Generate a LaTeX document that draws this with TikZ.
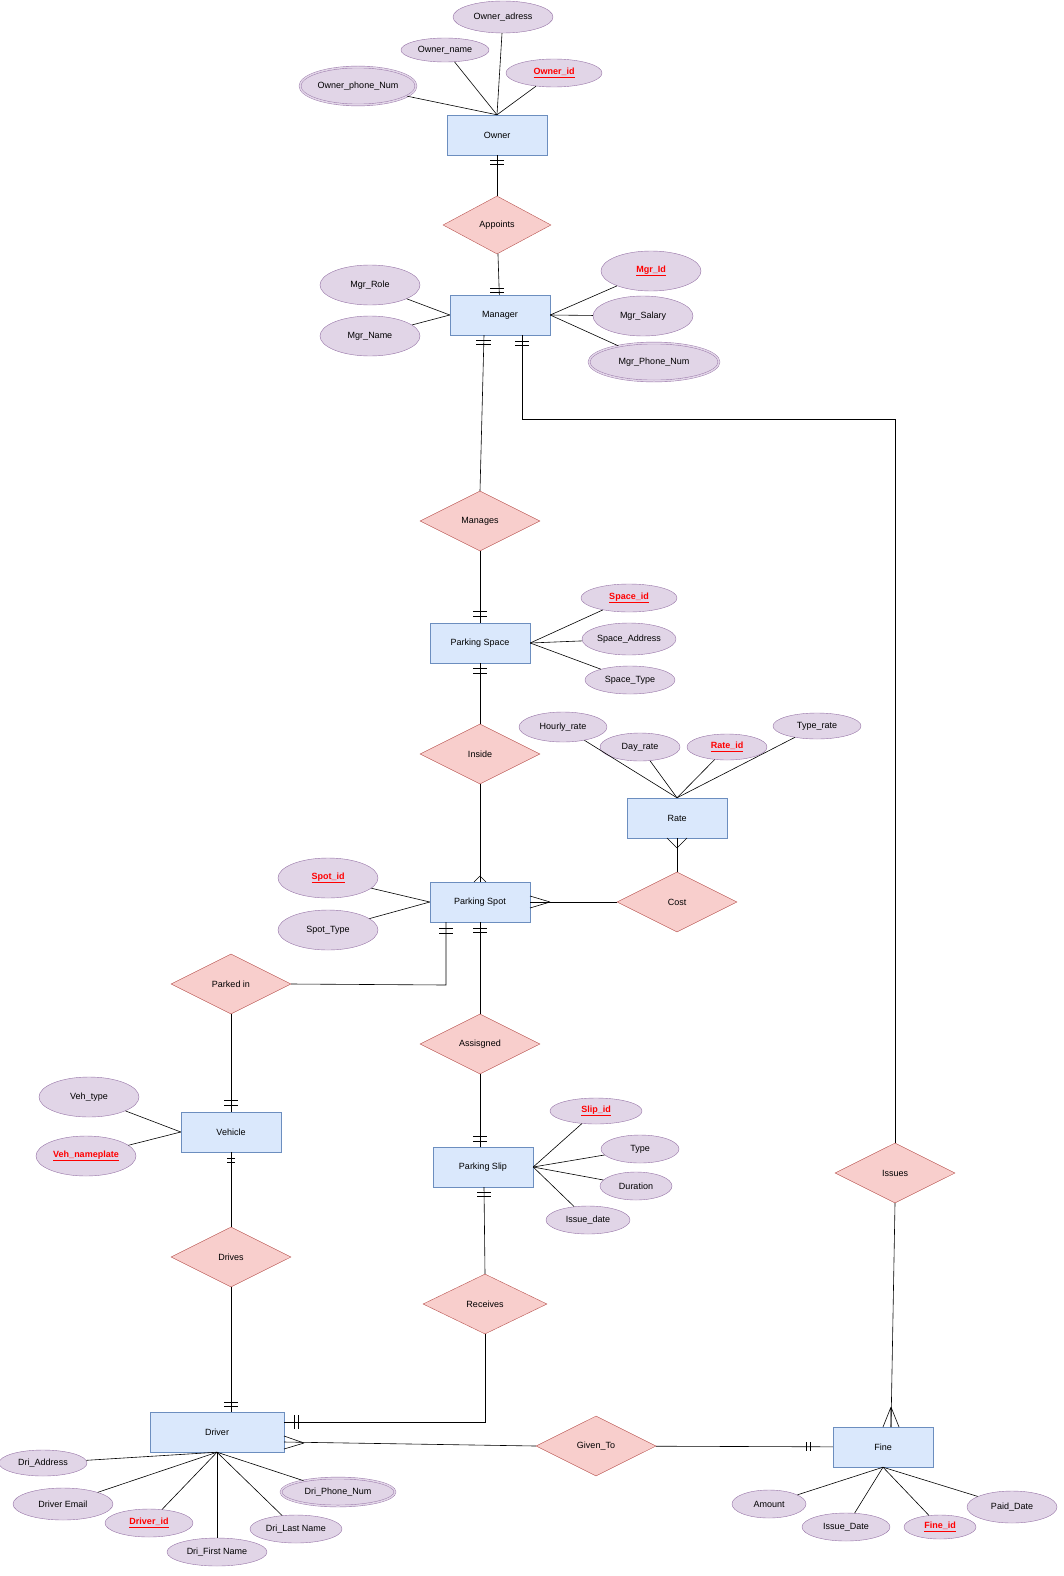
\documentclass[tikz,border=0pt]{standalone}
\usepackage{fontspec}
\setmainfont{Liberation Sans}
\usetikzlibrary{shapes.geometric}
\definecolor{entf}{HTML}{DAE8FC}\definecolor{ents}{HTML}{6C8EBF}
\definecolor{relf}{HTML}{F8CECC}\definecolor{rels}{HTML}{B85450}
\definecolor{attf}{HTML}{E1D5E7}\definecolor{atts}{HTML}{9673A6}
\newcommand\keyt[1]{\textcolor{red}{\bfseries\underline{#1}}}
\begin{document}
\begin{tikzpicture}[x=1pt,y=-1pt,font=\fontsize{9}{10}\selectfont,
 ent/.style={draw=ents,fill=entf,minimum width=100pt,minimum height=40pt,inner sep=0pt},
 rel/.style={diamond,draw=rels,fill=relf,aspect=2,minimum width=120pt,minimum height=60pt,inner sep=0pt},
 att/.style={ellipse,draw=atts,fill=attf,inner sep=0pt},
 datt/.style={att,double=attf,double distance=1.5pt},
 ln/.style={draw=black,line width=0.6pt}]
\useasboundingbox (0,0) rectangle (1064,1576);
% entities
\node[ent] (owner) at (497,135) {Owner};
\node[ent] (mgr) at (500,315) {Manager};
\node[ent] (psp) at (480,643) {Parking Space};
\node[ent] (rate) at (677,818) {Rate};
\node[ent] (spot) at (480,902) {Parking Spot};
\node[ent] (veh) at (231,1132) {Vehicle};
\node[ent] (slip) at (483,1167) {Parking Slip};
\node[ent,minimum width=134pt] (drv) at (217,1432) {Driver};
\node[ent] (fine) at (883,1447) {Fine};
% relationships
\node[rel,minimum width=108pt,minimum height=58pt] (appoints) at (497,225) {Appoints};
\node[rel] (manages) at (480,521) {Manages};
\node[rel] (inside) at (480,754) {Inside};
\node[rel] (cost) at (677,902) {Cost};
\node[rel] (parked) at (231,984) {Parked in};
\node[rel] (assig) at (480,1044) {Assisgned};
\node[rel] (drives) at (231,1257) {Drives};
\node[rel,minimum width=124pt] (recv) at (485,1304) {Receives};
\node[rel] (given) at (596,1446) {Given\_To};
\node[rel] (issues) at (895,1173) {Issues};
% attributes
\node[att,minimum width=100pt,minimum height=32pt] (oa) at (503,17) {Owner\_adress};
\node[att,minimum width=88pt,minimum height=24pt] (on) at (445,50) {Owner\_name};
\node[att,minimum width=96pt,minimum height=28pt] (oi) at (554,73) {\keyt{Owner\_id}};
\node[datt,minimum width=116pt,minimum height=38pt] (op) at (358,86) {Owner\_phone\_Num};
\node[att,minimum width=100pt,minimum height=40pt] (mr) at (370,285) {Mgr\_Role};
\node[att,minimum width=100pt,minimum height=40pt] (mn) at (370,336) {Mgr\_Name};
\node[att,minimum width=100pt,minimum height=40pt] (mi) at (651,271) {\keyt{Mgr\_Id}};
\node[att,minimum width=100pt,minimum height=40pt] (ms) at (643,316) {Mgr\_Salary};
\node[datt,minimum width=130pt,minimum height=38pt] (mp) at (654,362) {Mgr\_Phone\_Num};
\node[att,minimum width=96pt,minimum height=28pt] (si) at (629,598) {\keyt{Space\_id}};
\node[att,minimum width=94pt,minimum height=32pt] (sa) at (629,639) {Space\_Address};
\node[att,minimum width=90pt,minimum height=28pt] (st) at (630,680) {Space\_Type};
\node[att,minimum width=88pt,minimum height=30pt] (hr) at (563,727) {Hourly\_rate};
\node[att,minimum width=80pt,minimum height=28pt] (dr) at (640,747) {Day\_rate};
\node[att,minimum width=80pt,minimum height=26pt] (ri) at (727,747) {\keyt{Rate\_id}};
\node[att,minimum width=88pt,minimum height=26pt] (tr) at (817,726) {Type\_rate};
\node[att,minimum width=100pt,minimum height=40pt] (spi) at (328,878) {\keyt{Spot\_id}};
\node[att,minimum width=100pt,minimum height=40pt] (spt) at (328,930) {Spot\_Type};
\node[att,minimum width=100pt,minimum height=40pt] (vt) at (89,1097) {Veh\_type};
\node[att,minimum width=100pt,minimum height=40pt] (vn) at (86,1156) {\keyt{Veh\_nameplate}};
\node[att,minimum width=92pt,minimum height=26pt] (sli) at (596,1111) {\keyt{Slip\_id}};
\node[att,minimum width=78pt,minimum height=28pt] (slt) at (640,1149) {Type};
\node[att,minimum width=72pt,minimum height=28pt] (sld) at (636,1186) {Duration};
\node[att,minimum width=84pt,minimum height=28pt] (slid) at (588,1220) {Issue\_date};
\node[att,minimum width=88pt,minimum height=26pt] (da) at (43,1463) {Dri\_Address};
\node[att,minimum width=100pt,minimum height=32pt] (de) at (63,1504) {Driver Email};
\node[att,minimum width=88pt,minimum height=28pt] (di) at (149,1523) {\keyt{Driver\_id}};
\node[att,minimum width=100pt,minimum height=28pt] (dfn) at (217,1552) {Dri\_First Name};
\node[att,minimum width=92pt,minimum height=28pt] (dln) at (296,1529) {Dri\_Last Name};
\node[datt,minimum width=114pt,minimum height=28pt] (dp) at (338,1492) {Dri\_Phone\_Num};
\node[att,minimum width=74pt,minimum height=28pt] (fa) at (769,1504) {Amount};
\node[att,minimum width=88pt,minimum height=28pt] (fid) at (846,1527) {Issue\_Date};
\node[att,minimum width=72pt,minimum height=24pt] (fi) at (940,1527) {\keyt{Fine\_id}};
\node[att,minimum width=90pt,minimum height=32pt] (fp) at (1012,1507) {Paid\_Date};
% attribute lines
\foreach \a in {oa,on,oi,op} \draw[ln] (owner.north) -- (\a);
\foreach \a in {mr,mn} \draw[ln] (mgr.west) -- (\a);
\foreach \a in {mi,ms,mp} \draw[ln] (mgr.east) -- (\a);
\foreach \a in {si,sa,st} \draw[ln] (psp.east) -- (\a);
\foreach \a in {hr,dr,ri,tr} \draw[ln] (rate.north) -- (\a);
\foreach \a in {spi,spt} \draw[ln] (spot.west) -- (\a);
\foreach \a in {vt,vn} \draw[ln] (veh.west) -- (\a);
\foreach \a in {sli,slt,sld,slid} \draw[ln] (slip.east) -- (\a);
\foreach \a in {da,de,di,dfn,dln,dp} \draw[ln] (drv.south) -- (\a);
\foreach \a in {fa,fid,fi,fp} \draw[ln] (fine.south) -- (\a);
% relationship lines
\draw[ln] (owner) -- (appoints);
\draw[ln] (497,160)--+(-7,0) (497,160)--+(7,0) (497,164)--+(-7,0) (497,164)--+(7,0);
\draw[ln] (appoints) -- (mgr);
\draw[ln] (490,288)--(504,288) (490,292)--(504,292);
\draw[ln] (mgr.south -| 484,0) -- (manages.north);
\draw[ln] (476,340)--(491,340) (476,344)--(491,344);
\draw[ln] (manages) -- (psp);
\draw[ln] (473,611)--(487,611) (473,616)--(487,616);
\coordinate (c1) at (522,419); \coordinate (c2) at (895,419);
\draw[ln] (mgr.south -| 522,0) -- (c1) -- (c2) -- (issues.north);
\draw[ln] (515,341)--(529,341) (515,345)--(529,345);
\draw[ln] (issues.south) -- (fine.north -| 891,0);
\draw[ln] (891,1407)--(883,1427) (891,1407)--(899,1427) (891,1407)--(891,1427);
\draw[ln] (psp) -- (inside);
\draw[ln] (473,668)--(487,668) (473,673)--(487,673);
\draw[ln] (inside) -- (spot);
\draw[ln] (480,876)--(474,882) (480,876)--(486,882);
\draw[ln] (rate) -- (cost);
\draw[ln] (677,848)--(667,838) (677,848)--(687,838);
\draw[ln] (spot) -- (cost);
\draw[ln] (550,902)--(530,896) (550,902)--(530,908);
\coordinate (c3) at (446,985);
\draw[ln] (spot.south -| 446,0) -- (c3) -- (parked.east);
\draw[ln] (439,928)--(453,928) (439,933)--(453,933);
\draw[ln] (parked) -- (veh);
\draw[ln] (224,1100)--(238,1100) (224,1105)--(238,1105);
\draw[ln] (spot) -- (assig);
\draw[ln] (473,928)--(487,928) (473,932)--(487,932);
\draw[ln] (assig) -- (slip.north -| 480,0);
\draw[ln] (473,1136)--(487,1136) (473,1141)--(487,1141);
\draw[ln] (veh) -- (drives);
\draw[ln] (227,1158)--(235,1158) (227,1162)--(235,1162);
\draw[ln] (drives) -- (drv.north -| 231,0);
\draw[ln] (224,1402)--(238,1402) (224,1406)--(238,1406);
\draw[ln] (slip.south -| 484,0) -- (recv.north);
\draw[ln] (477,1192)--(491,1192) (477,1196)--(491,1196);
\coordinate (c4) at (485,1422);
\draw[ln] (recv.south) -- (c4) -- (drv.east |- c4);
\draw[ln] (294,1415)--(294,1429) (298,1415)--(298,1429);
\draw[ln] (drv.east |- 0,1442) -- (given.west);
\draw[ln] (304,1443)--(284,1436) (304,1443)--(284,1449);
\draw[ln] (given) -- (fine);
\draw[ln] (806,1442)--(806,1451) (810,1442)--(810,1451);
\end{tikzpicture}
\end{document}
